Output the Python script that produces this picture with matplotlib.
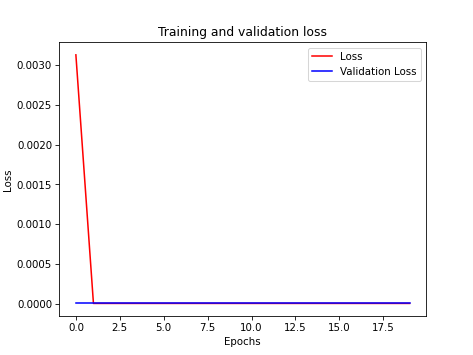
import matplotlib
matplotlib.use('Agg')
import matplotlib.pyplot as plt

epochs = list(range(20))
loss = [0.00313] + [0.000002] * 19
val_loss = [0.000001] * 20

fig = plt.figure(figsize=(6.4, 4.8), dpi=74)
plt.plot(epochs, loss, 'r', label='Loss')
plt.plot(epochs, val_loss, 'b', label='Validation Loss')
plt.title('Training and validation loss')
plt.xlabel('Epochs')
plt.ylabel('Loss')
plt.legend()
plt.savefig('out.png', dpi=74)
